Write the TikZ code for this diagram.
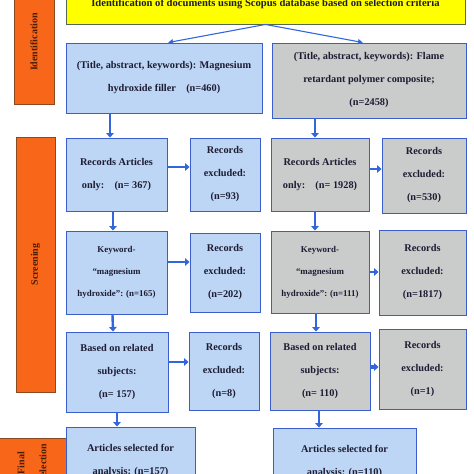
\documentclass[tikz,border=0pt]{standalone}
\usepackage{fontspec}
\setmainfont{Liberation Serif}
\usetikzlibrary{arrows.meta, positioning}
\definecolor{ink}{HTML}{1C1C33}
\definecolor{edge}{HTML}{3A5FCD}
\definecolor{skyfill}{HTML}{BED6F5}
\definecolor{greyfill}{HTML}{C9CCCB}
\definecolor{phase}{HTML}{F8661A}
\definecolor{phaseedge}{HTML}{8A4A20}
\definecolor{phasetext}{HTML}{4A1E05}
\definecolor{flow}{HTML}{3366DD}
\definecolor{topfill}{HTML}{FFFF00}
\definecolor{topedge}{HTML}{55694F}
\tikzset{
  box/.style={draw=edge, line width=0.9pt, text=ink, align=center, inner sep=0pt,
    font=\bfseries\fontsize{10.3}{23}\selectfont},
  skybox/.style={box, fill=skyfill},
  greybox/.style={box, fill=greyfill},
  smalltext/.style={font=\bfseries\fontsize{8.9}{22}\selectfont},
  phasebox/.style={draw=phaseedge, fill=phase, line width=0.6pt, text=phasetext, align=center,
    inner sep=0pt, font=\bfseries\fontsize{10}{22}\selectfont},
  flowarrow/.style={draw=flow, line width=2.4pt, -{Triangle[length=4.5pt,width=7.5pt]}},
  splitarrow/.style={draw=flow, line width=1.1pt, -{Latex[length=5pt,width=6pt]}},
}
\begin{document}
\begin{tikzpicture}[x=1pt, y=-1pt]
    \path[use as bounding box, clip] (0,0) rectangle (474,474);
    % phases
    \node[phasebox, minimum width=40pt, minimum height=124pt] (phId) at (34,42) {\rotatebox{90}{Identification}};
    \node[phasebox, minimum width=39pt, minimum height=255pt] (phScr) at (35.5,264.5) {\rotatebox{90}{Screening}};
    \node[phasebox, minimum width=50pt, minimum height=74pt, rotate=90] (phFin) at (32,463) {Final\\Selection};
    % identification
    \node[box, fill=topfill, draw=topedge, font=\bfseries\fontsize{10.6}{12}\selectfont,
      minimum width=399pt, minimum height=40pt] (top) at (265.5,4)
      {Identification of documents using Scopus database based on selection criteria};
    \node[skybox, minimum width=196pt, minimum height=70pt] (idL) at (164,78)
      {(Title, abstract, keywords): Magnesium\\hydroxide filler\quad (n=460)};
    \node[greybox, minimum width=194pt, minimum height=75pt] (idR) at (369,80.5)
      {(Title, abstract, keywords): Flame\\retardant polymer composite;\\(n=2458)};
    % screening, left branch
    \node[skybox, minimum width=101pt, minimum height=73pt] (r1L) at (116.5,174.5) {Records Articles\\only:\quad(n= 367)};
    \node[skybox, minimum width=70pt, minimum height=73pt] (x1L) at (225,174.5) {Records\\excluded:\\(n=93)};
    \node[skybox, smalltext, minimum width=101pt, minimum height=83pt] (r2L) at (116.5,272.5) {Keyword-\\``magnesium\\hydroxide'': (n=165)};
    \node[skybox, minimum width=70pt, minimum height=79pt] (x2L) at (225,272.5) {Records\\excluded:\\(n=202)};
    \node[skybox, minimum width=102pt, minimum height=80pt] (r3L) at (117,372) {Based on related\\subjects:\\(n= 157)};
    \node[skybox, minimum width=70pt, minimum height=78pt] (x3L) at (224,371) {Records\\excluded:\\(n=8)};
    % screening, right branch
    \node[greybox, minimum width=98pt, minimum height=73pt] (r1R) at (320,174.5) {Records Articles\\only:\quad(n= 1928)};
    \node[greybox, minimum width=84pt, minimum height=75pt] (x1R) at (424,175.5) {Records\\excluded:\\(n=530)};
    \node[greybox, smalltext, minimum width=98pt, minimum height=82pt] (r2R) at (320,272) {Keyword-\\``magnesium\\hydroxide'': (n=111)};
    \node[greybox, minimum width=87pt, minimum height=85pt] (x2R) at (422.5,272.5) {Records\\excluded:\\(n=1817)};
    \node[greybox, minimum width=100pt, minimum height=78pt] (r3R) at (320,371) {Based on related\\subjects:\\(n= 110)};
    \node[greybox, minimum width=87pt, minimum height=80pt] (x3R) at (422.5,369) {Records\\excluded:\\(n=1)};
    % final selection
    \node[skybox, minimum width=129pt, minimum height=66pt] (fL) at (130.5,460) {Articles selected for\\analysis: (n=157)};
    \node[skybox, minimum width=143pt, minimum height=66pt] (fR) at (344.5,461) {Articles selected for\\analysis: (n=110)};
    % split from the query box
    \draw[splitarrow] (top.south) -- ([xshift=4pt]idL.north);
    \draw[splitarrow] (top.south) -- ([xshift=-6pt]idR.north);
    % downward arrows
    \draw[flowarrow] ([xshift=-6.5pt]r1L.north |- idL.south) -- ([xshift=-6.5pt]r1L.north);
    \draw[flowarrow] ([xshift=-5pt]r1R.north |- idR.south) -- ([xshift=-5pt]r1R.north);
    \draw[flowarrow] ([xshift=-3.5pt]r1L.south) -- ([xshift=-3.5pt]r2L.north);
    \draw[flowarrow] ([xshift=-5pt]r1R.south) -- ([xshift=-5pt]r2R.north);
    \draw[flowarrow] ([xshift=-4pt]r2L.south) -- ([xshift=-4pt]r3L.north);
    \draw[flowarrow] ([xshift=-4pt]r2R.south) -- ([xshift=-4pt]r3R.north);
    \draw[flowarrow] (r3L.south) -- (r3L.south |- fL.north);
    \draw[flowarrow] ([xshift=-1pt]r3R.south) -- ([xshift=-1pt]r3R.south |- fR.north);
    % exclusion arrows
    \draw[flowarrow] ([yshift=7.5pt]r1L.east) -- ([yshift=7.5pt]r1L.east -| x1L.west);
    \draw[flowarrow] ([yshift=5.5pt]r1R.east) -- ([yshift=5.5pt]r1R.east -| x1R.west);
    \draw[flowarrow] ([yshift=10.5pt]r2L.east) -- ([yshift=10.5pt]r2L.east -| x2L.west);
    \draw[flowarrow] (r2R.east) -- (r2R.east -| x2R.west);
    \draw[flowarrow] ([yshift=10pt]r3L.east) -- ([yshift=10pt]r3L.east -| x3L.west);
    \draw[flowarrow, line width=4pt] ([yshift=4pt]r3R.east) -- ([yshift=4pt]r3R.east -| x3R.west);
\end{tikzpicture}
\end{document}
